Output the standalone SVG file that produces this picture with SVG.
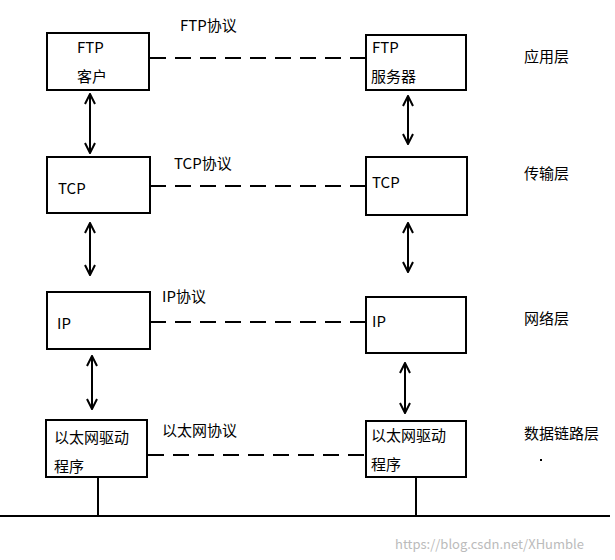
<svg xmlns="http://www.w3.org/2000/svg" width="615" height="560" viewBox="0 0 615 560">
<style>
.b{fill:#fff;stroke:#000;stroke-width:2}
.d{stroke:#000;stroke-width:2;stroke-dasharray:16,9;fill:none}
.l{stroke:#000;stroke-width:2;fill:none}
.a{stroke:#000;stroke-width:2;fill:none;marker-start:url(#a);marker-end:url(#a)}
text{font-family:"Microsoft YaHei","Noto Sans CJK SC",sans-serif;font-size:15px;fill:#000}
.w{fill:#bbb;font-size:13px}
</style>
<defs>
<marker id="a" viewBox="0 0 12 12" refX="11" refY="6" markerWidth="12" markerHeight="12" markerUnits="userSpaceOnUse" orient="auto-start-reverse"><path d="M1,1 L11,6 L1,11" fill="none" stroke="#000" stroke-width="2"/></marker>
</defs>
<rect width="615" height="560" fill="#fff"/>
<g id="connectors">
<path class="d" d="M150,58H366M150,186H366M150,322H366M148,455H366"/>
<path class="a" d="M90,94V153"/>
<path class="a" d="M408,96V144"/>
<path class="a" d="M90,223V275"/>
<path class="a" d="M408,223V272"/>
<path class="a" d="M92,356V409"/>
<path class="a" d="M405,363V413"/>
<path class="l" d="M0,516H610M98,477V516M416,477V516"/>
</g>
<g id="n1"><rect class="b" x="47" y="33" width="102" height="57"/><text x="77" y="53">FTP</text><text x="77" y="82">客户</text></g>
<g id="n2"><rect class="b" x="366" y="35" width="100" height="55"/><text x="372" y="53">FTP</text><text x="371" y="82">服务器</text></g>
<g id="n3"><rect class="b" x="47" y="157" width="103" height="56"/><text x="58" y="194">TCP</text></g>
<g id="n4"><rect class="b" x="366" y="157" width="101" height="58"/><text x="372" y="188">TCP</text></g>
<g id="n5"><rect class="b" x="47" y="292" width="103" height="57"/><text x="57" y="329">IP</text></g>
<g id="n6"><rect class="b" x="366" y="297" width="100" height="56"/><text x="372" y="327">IP</text></g>
<g id="n7"><rect class="b" x="46" y="420" width="101" height="57"/><text x="54" y="443">以太网驱动</text><text x="54" y="472">程序</text></g>
<g id="n8"><rect class="b" x="366" y="421" width="100" height="56"/><text x="371" y="441">以太网驱动</text><text x="371" y="470">程序</text></g>
<text x="180" y="31">FTP协议</text>
<text x="174" y="169">TCP协议</text>
<text x="162" y="302">IP协议</text>
<text x="162" y="436">以太网协议</text>
<text x="524" y="62">应用层</text>
<text x="524" y="179">传输层</text>
<text x="524" y="324">网络层</text>
<text x="524" y="439">数据链路层</text>
<rect x="540" y="459" width="2" height="2" fill="#000"/>
<text class="w" x="395" y="549">https://blog.csdn.net/XHumble</text>
</svg>
